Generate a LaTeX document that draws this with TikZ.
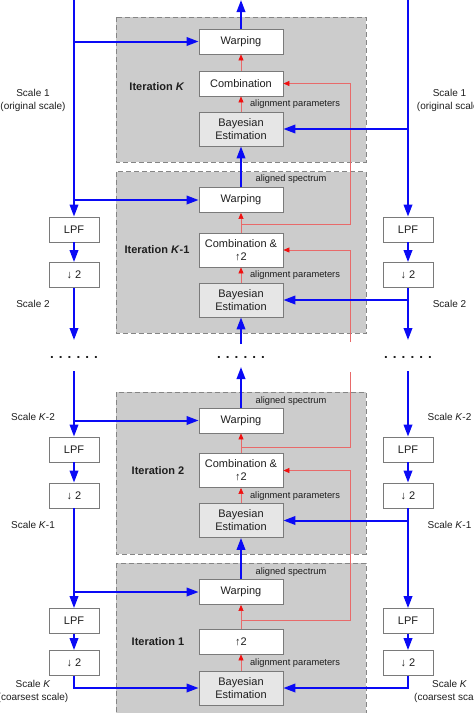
\documentclass[tikz,border=0pt]{standalone}
\usepackage{fontspec}
\setmainfont{Liberation Sans}
\usetikzlibrary{arrows.meta}
\definecolor{panelfill}{HTML}{CCCCCC}
\definecolor{paneldash}{HTML}{858585}
\definecolor{boxline}{HTML}{7A7A7A}
\definecolor{bayesfill}{HTML}{E6E6E6}
\definecolor{flowblue}{HTML}{0A0AF5}
\definecolor{fbred}{HTML}{E86A6A}
\definecolor{tipred}{HTML}{F01010}
\definecolor{txt}{HTML}{1E1E1E}
\begin{document}
\begin{tikzpicture}[x=1pt,y=-1pt,
 panel/.style={draw=paneldash, fill=panelfill, dash pattern=on 5pt off 3pt, line width=0.9pt},
 box/.style={draw=boxline, line width=0.8pt, fill=white, minimum width=84pt, minimum height=25pt, inner sep=0pt, align=center, text=txt, font=\fontsize{11}{13}\selectfont},
 bayes/.style={box, fill=bayesfill, minimum height=34pt},
 tallbox/.style={box, minimum height=34pt},
 sbox/.style={box, minimum width=50pt},
 bflow/.style={draw=flowblue, line width=2pt, -{Triangle[length=12pt,width=8.5pt]}},
 bline/.style={draw=flowblue, line width=2pt},
 rflow/.style={draw=fbred, line width=0.6pt, -{Triangle[length=6pt,width=5pt,color=tipred]}},
 rline/.style={draw=fbred, line width=0.6pt},
 lbl/.style={font=\fontsize{9.3}{11}\selectfont, text=txt, inner sep=0pt},
 scl/.style={font=\fontsize{10}{13}\selectfont, text=txt, align=center, inner sep=0pt},
 iter/.style={font=\fontsize{11}{13}\selectfont\bfseries, text=txt, inner sep=0pt},
 dotrow/.style={font=\fontsize{13.5}{14}\selectfont\bfseries, text=txt, inner sep=0pt}
]
\useasboundingbox (0,0) rectangle (474,713);
\clip (0,0) rectangle (474,713);

% panels
\path[panel] (116,17) rectangle (366,162);
\path[panel] (116,171.5) rectangle (366,333);
\path[panel] (116,392) rectangle (366,554);
\path[panel] (116,563) rectangle (366,730);

% helper coordinates
\coordinate (topL) at (74,-5);
\coordinate (topR) at (408,-5);
\coordinate (topC) at (241,0);
\coordinate (endL1) at (74,340);
\coordinate (endR1) at (408,340);
\coordinate (startL2) at (74,371);
\coordinate (startR2) at (408,371);
\coordinate (startC2) at (241,344);
\coordinate (endC2) at (241,367);
\coordinate (rx) at (350,0);
\coordinate (redTopEnd) at (350,342);
\coordinate (redBotStart) at (350,372);
\coordinate (fb1) at (241,224);
\coordinate (fb2) at (241,447);
\coordinate (fb3) at (241,620);

% boxes: iteration K
\node[box] (WK) at (241,41.5) {Warping};
\node[box] (CK) at (241,83.5) {Combination};
\node[bayes] (BK) at (241,129) {Bayesian\\Estimation};
% iteration K-1
\node[box] (WK1) at (241,200) {Warping};
\node[tallbox] (CK1) at (241,250) {Combination \&\\↑2};
\node[bayes] (BK1) at (241,300) {Bayesian\\Estimation};
% iteration 2
\node[box] (W2) at (241,420.5) {Warping};
\node[tallbox] (C2) at (241,470.5) {Combination \&\\↑2};
\node[bayes] (B2) at (241,520.5) {Bayesian\\Estimation};
% iteration 1
\node[box] (W1) at (241,592) {Warping};
\node[box] (U1) at (241,641.5) {↑2};
\node[bayes] (B1) at (241,688) {Bayesian\\Estimation};

% side boxes
\node[sbox] (LL1) at (74,229.5) {LPF};
\node[sbox] (DL1) at (74,275) {↓ 2};
\node[sbox] (LL2) at (74,449.5) {LPF};
\node[sbox] (DL2) at (74,495.5) {↓ 2};
\node[sbox] (LL3) at (74,621) {LPF};
\node[sbox] (DL3) at (74,663) {↓ 2};
\node[sbox] (LR1) at (408,229.5) {LPF};
\node[sbox] (DR1) at (408,275) {↓ 2};
\node[sbox] (LR2) at (408,449.5) {LPF};
\node[sbox] (DR2) at (408,495.5) {↓ 2};
\node[sbox] (LR3) at (408,621) {LPF};
\node[sbox] (DR3) at (408,663) {↓ 2};

% red feedback lines
\draw[rflow] (CK.north) -- (WK.south);
\draw[rflow] (BK.north) -- (CK.south);
\draw[rflow] (CK1.north) -- (WK1.south);
\draw[rflow] (BK1.north) -- (CK1.south);
\draw[rflow] (C2.north) -- (W2.south);
\draw[rflow] (B2.north) -- (C2.south);
\draw[rflow] (U1.north) -- (W1.south);
\draw[rflow] (B1.north) -- (U1.south);
\draw[rflow] (fb1) -- (fb1 -| rx) |- (CK.east);
\draw[rflow] (redTopEnd) |- (CK1.east);
\draw[rline] (fb2) -- (fb2 -| rx) -- (redBotStart);
\draw[rflow] (fb3) -- (fb3 -| rx) |- (C2.east);

% blue: left
\draw[bflow] (topL) -- (LL1.north);
\draw[bflow] (WK.west -| topL) -- (WK.west);
\draw[bflow] (WK1.west -| topL) -- (WK1.west);
\draw[bflow] (LL1.south) -- (DL1.north);
\draw[bflow] (DL1.south) -- (endL1);
\draw[bflow] (startL2) -- (LL2.north);
\draw[bflow] (W2.west -| startL2) -- (W2.west);
\draw[bflow] (LL2.south) -- (DL2.north);
\draw[bflow] (DL2.south) -- (LL3.north);
\draw[bflow] (W1.west -| startL2) -- (W1.west);
\draw[bflow] (LL3.south) -- (DL3.north);
\draw[bflow] (DL3.south) |- (B1.west);
% blue: right
\draw[bflow] (topR) -- (LR1.north);
\draw[bflow] (BK.east -| topR) -- (BK.east);
\draw[bflow] (LR1.south) -- (DR1.north);
\draw[bflow] (DR1.south) -- (endR1);
\draw[bflow] (BK1.east -| topR) -- (BK1.east);
\draw[bflow] (startR2) -- (LR2.north);
\draw[bflow] (LR2.south) -- (DR2.north);
\draw[bflow] (DR2.south) -- (LR3.north);
\draw[bflow] (B2.east -| startR2) -- (B2.east);
\draw[bflow] (LR3.south) -- (DR3.north);
\draw[bflow] (DR3.south) |- (B1.east);
% blue: centre
\draw[bflow] (WK.north) -- (topC);
\draw[bflow] (WK1.north) -- (BK.south);
\draw[bflow] (startC2) -- (BK1.south);
\draw[bflow] (W2.north) -- (endC2);
\draw[bflow] (W1.north) -- (B2.south);

% labels
\node[iter] (itK) at (157,87) {Iteration \textit{K}};
\node[iter] (itK1) at (157,250) {Iteration \textit{K}-1};
\node[iter] (it2) at (158,471) {Iteration 2};
\node[iter] (it1) at (158,642) {Iteration 1};
\node[lbl] (apK) at (295,104) {alignment parameters};
\node[lbl] (apK1) at (295,275) {alignment parameters};
\node[lbl] (ap2) at (295,496) {alignment parameters};
\node[lbl] (ap1) at (295,663) {alignment parameters};
\node[lbl] (asK1) at (291,179) {aligned spectrum};
\node[lbl] (as2) at (291,401) {aligned spectrum};
\node[lbl] (as1) at (291,572) {aligned spectrum};

\node[scl] (sL1) at (33,100.5) {Scale 1\\(original scale)};
\node[scl] (sR1) at (449.5,100.5) {Scale 1\\(original scale)};
\node[scl] (sL2) at (33,304) {Scale 2};
\node[scl] (sR2) at (449.5,304) {Scale 2};
\node[scl] (sLK2) at (33,417) {Scale \textit{K}-2};
\node[scl] (sRK2) at (449.5,417) {Scale \textit{K}-2};
\node[scl] (sLK1) at (33,525) {Scale \textit{K}-1};
\node[scl] (sRK1) at (449.5,525) {Scale \textit{K}-1};
\node[scl] (sLK) at (33,691.5) {Scale \textit{K}\\(coarsest scale)};
\node[scl] (sRK) at (449.5,691.5) {Scale \textit{K}\\(coarsest scale)};

\node[dotrow] (dL) at (74,357) {. . . . . .};
\node[dotrow] (dC) at (241,357) {. . . . . .};
\node[dotrow] (dR) at (408,357) {. . . . . .};
\end{tikzpicture}
\end{document}
